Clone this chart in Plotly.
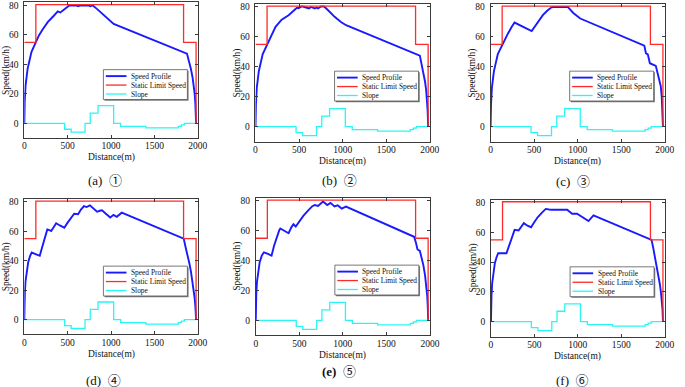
import plotly.graph_objects as go

# ---------------- data ----------------
distance_ticks = [0, 500, 1000, 1500, 2000]
speed_ticks = [0, 20, 40, 60, 80]

limit_x = [0, 133, 133, 1836, 1836, 1980, 1980]
limit_v = [55, 55, 80.6, 80.6, 55, 55, 0]

slope_x = [0, 465, 540, 700, 760, 850, 1030, 1110, 1400, 1775, 1810, 1845, 1980]
slope_v = [0, -4, -6, 0, 7, 12, 0, -2, -3, -2, -1, 0, 0]

speed_a_x = [0, 2, 5, 15, 38, 83, 132, 170, 215, 272, 340, 386, 416, 460, 518, 560, 600, 620, 650, 700, 740, 760, 790,
             830, 900, 960, 1030, 1875, 1900, 1920, 1940, 1955, 1965, 1972, 1976, 1980]
speed_a_v = [0, 10, 15, 26, 37, 48.5, 54.6, 59.8, 64, 68.8, 73, 76, 75.2, 77.5, 80, 80, 80, 79.4, 80, 80, 80, 79.4, 80,
             78, 74.5, 71, 67.5, 47.3, 42, 37, 31, 25, 19.5, 13, 8, 0]

speed_b_x = [0, 2, 5, 15, 38, 83, 136, 180, 230, 300, 380, 456, 475, 495, 531, 560, 588, 614, 636, 660, 680, 700, 719,
             749, 787, 830, 908, 980, 1039, 1885, 1905, 1925, 1945, 1958, 1968, 1975, 1980]
speed_b_v = [0, 10, 15, 26, 37, 48.5, 55, 61, 66.7, 71.5, 74.5, 78.5, 79.4, 79.2, 80.5, 80, 79.6, 79, 80, 79.5, 79, 79.6, 79,
             80.3, 80.3, 78, 73.4, 70, 67.8, 47.5, 42, 37, 30, 24, 17, 10, 0]

speed_c_x = [0, 2, 5, 15, 38, 83, 136, 170, 200, 240, 275, 472, 520, 560, 600, 650, 700, 720, 887, 950, 1000, 1030,
             1766, 1785, 1806, 1830, 1898, 1915, 1936, 1955, 1966, 1974, 1980]
speed_c_v = [0, 10, 15, 26, 37, 48.5, 55, 59, 62.3, 66.5, 69.6, 63.9, 68, 71.5, 74.5, 77.5, 79.8, 80, 80, 76, 73.5, 72.3,
             54.1, 49, 48.3, 42.4, 40.6, 37, 32.4, 27, 20, 11, 0]

speed_d_x = [0, 2, 6, 14, 26, 45, 65, 85, 130, 178, 200, 215, 240, 265, 290, 310, 340, 367, 410, 461, 499, 540, 575, 620,
             655, 688, 718, 756, 800, 839, 870, 896, 940, 991, 1028, 1066, 1123, 1838, 1860, 1880, 1900, 1920, 1937,
             1952, 1963, 1972, 1980]
speed_d_v = [0, 10, 18, 26, 32, 39, 43, 45.6, 44.5, 43.4, 48, 51.3, 57, 61.3, 60.8, 60.2, 63, 65.5, 64, 62.5, 65.9, 69.5,
             72, 71.6, 75, 77.2, 76.5, 77.7, 75.5, 73.3, 74, 74.3, 72, 69.4, 71.2, 69.9, 72.7, 55, 49, 44.5, 39, 33, 27,
             21, 15, 9, 0]

speed_e_x = [0, 2, 6, 14, 26, 45, 70, 94, 140, 181, 210, 240, 270, 282, 320, 377, 410, 433, 459, 500, 546, 600, 650, 678,
             716, 772, 821, 859, 904, 941, 987, 1036, 1819, 1840, 1858, 1885, 1905, 1925, 1945, 1960, 1970, 1976, 1980]
speed_e_v = [0, 10, 18, 26, 32, 39, 43.5, 45.6, 44.5, 43.3, 50, 56, 60.4, 61.6, 60.5, 58.4, 62.5, 64.4, 62.9, 66.5, 70,
             73.5, 76.5, 77.3, 76.7, 79.6, 77.3, 78.7, 76.4, 77.1, 74.9, 76.2, 56, 52, 47.5, 46.5, 42, 37, 30, 23, 16, 9, 0]

speed_f_x = [0, 2, 6, 14, 26, 45, 65, 83, 178, 200, 235, 272, 318, 378, 420, 461, 500, 537, 590, 631, 669, 707, 877,
             934, 991, 1047, 1123, 1180, 1849, 1870, 1890, 1910, 1928, 1945, 1958, 1968, 1975, 1980]
speed_f_v = [0, 10, 18, 26, 32, 39.5, 43.5, 46, 46, 50, 56, 61.7, 61.3, 66.2, 64.5, 63.5, 67, 70.2, 73.5, 75.8, 75.4,
             75.2, 75.2, 72.5, 72.5, 70.2, 67.6, 71.4, 55, 49, 43, 37, 31, 25, 19, 13, 8, 0]

captions = ["(a)", "(b)", "(c)", "(d)", "(e)", "(f)"]
circled = ["①", "②", "③", "④", "⑤", "⑥"]
series_names = ["Speed Profile", "Static Limit Speed", "Slope"]

speeds = [(speed_a_x, speed_a_v), (speed_b_x, speed_b_v), (speed_c_x, speed_c_v),
          (speed_d_x, speed_d_v), (speed_e_x, speed_e_v), (speed_f_x, speed_f_v)]

# ---------------- layout helpers ----------------
W, H = 685, 387
SERIF = "'Liberation Serif', 'Times New Roman', serif"
CAPFONT = "'Liberation Serif', 'Noto Sans CJK SC', serif"
BLUE, RED, CYAN = "#1a1aff", "#ff2a2a", "#2af5f5"
AXC = "#3a3a3a"

# panel boxes in pixels: left, right, top, bottom
panels = [
    (22.7, 199.3, 0.5, 136.8),
    (258.0, 435.5, 2.0, 140.3),
    (497.3, 674.5, 2.0, 140.3),
    (22.7, 199.3, 198.0, 334.1),
    (258.3, 435.5, 197.0, 335.0),
    (497.7, 674.5, 198.7, 336.3),
]
caption_pos = [(105, 179.5), (343.5, 179.5), (581, 180.5), (103, 380), (342.5, 371.5), (581, 380)]


def fx(px):
    return px / W


def fy(py):
    return 1 - py / H


fig = go.Figure()
shapes = []
annotations = []
layout = {}

for i, (L, R, T, B) in enumerate(panels):
    n = i + 1
    xa = "x" if n == 1 else f"x{n}"
    ya = "y" if n == 1 else f"y{n}"
    sx, sv = speeds[i]
    fig.add_trace(go.Scatter(x=sx, y=sv, xaxis=xa, yaxis=ya, mode="lines", name=series_names[0],
                             line=dict(color=BLUE, width=1.9), showlegend=False))
    fig.add_trace(go.Scatter(x=limit_x, y=limit_v, xaxis=xa, yaxis=ya, mode="lines", name=series_names[1],
                             line=dict(color=RED, width=1.3), showlegend=False))
    fig.add_trace(go.Scatter(x=slope_x, y=slope_v, xaxis=xa, yaxis=ya, mode="lines", name=series_names[2],
                             line=dict(color=CYAN, width=1.3, shape="hv"), showlegend=False))

    axis_common = dict(showline=True, mirror="ticks", linecolor=AXC, linewidth=0.8, ticks="inside", ticklen=3,
                       tickcolor=AXC, tickwidth=0.8, showgrid=False, zeroline=False,
                       tickfont=dict(family=SERIF, size=9.5, color="#111"))
    xk = "xaxis" if n == 1 else f"xaxis{n}"
    yk = "yaxis" if n == 1 else f"yaxis{n}"
    layout[xk] = dict(axis_common, domain=[fx(L), fx(R)], range=[0, 2000], tickvals=distance_ticks,
                      anchor=ya, ticklabelstandoff=-1)
    layout[yk] = dict(axis_common, domain=[fy(B), fy(T)], range=[-10, 82], tickvals=speed_ticks,
                      anchor=xa, ticklabelstandoff=3)

    # axis titles
    annotations.append(dict(text="Distance(m)", x=fx((L + R) / 2), y=fy(B + 20), xref="paper", yref="paper",
                            showarrow=False, xanchor="center", yanchor="middle",
                            font=dict(family=SERIF, size=9.5, color="#111")))
    annotations.append(dict(text="Speed(km/h)", x=fx(L - 18), y=fy((T + B) / 2), xref="paper", yref="paper",
                            showarrow=False, textangle=-90, xanchor="center", yanchor="middle",
                            font=dict(family=SERIF, size=9.5, color="#111")))
    # caption
    cx, cy = caption_pos[i]
    ctext = f"{captions[i]}\u00a0\u00a0{circled[i]}"
    if i == 4:
        ctext = f"<b>{captions[i]}</b>\u00a0\u00a0{circled[i]}"
    annotations.append(dict(text=ctext, x=fx(cx), y=fy(cy), xref="paper", yref="paper",
                            showarrow=False, xanchor="center", yanchor="middle",
                            font=dict(family=CAPFONT, size=13, color="#111")))

    # manual legend box
    bl, bt, bw, bh = L + 80.5, T + 67.5, 85.5, 30
    shapes.append(dict(type="rect", xref="paper", yref="paper", x0=fx(bl + 1.2), x1=fx(bl + bw + 1.2),
                       y0=fy(bt + bh + 1.2), y1=fy(bt + 1.2), line=dict(width=0), fillcolor="#7a7a7a"))
    shapes.append(dict(type="rect", xref="paper", yref="paper", x0=fx(bl), x1=fx(bl + bw),
                       y0=fy(bt + bh), y1=fy(bt), line=dict(width=0.8, color="#555"), fillcolor="white"))
    for k, (col, lw) in enumerate([(BLUE, 1.9), (RED, 1.3), (CYAN, 1.3)]):
        ry = bt + 6.5 + k * 9.0
        shapes.append(dict(type="line", xref="paper", yref="paper", x0=fx(bl + 2.5), x1=fx(bl + 23.5),
                           y0=fy(ry), y1=fy(ry), line=dict(color=col, width=lw)))
        annotations.append(dict(text=series_names[k], x=fx(bl + 26), y=fy(ry), xref="paper", yref="paper",
                                showarrow=False, xanchor="left", yanchor="middle",
                                font=dict(family=SERIF, size=7.4, color="#111")))

fig.update_layout(
    width=W, height=H, margin=dict(l=0, r=0, t=0, b=0),
    paper_bgcolor="white", plot_bgcolor="white", showlegend=False,
    shapes=shapes, annotations=annotations, **layout,
)

fig.write_html("out.html", config={"displayModeBar": False},
               post_script="document.body.style.margin='0';document.body.style.padding='0';")
